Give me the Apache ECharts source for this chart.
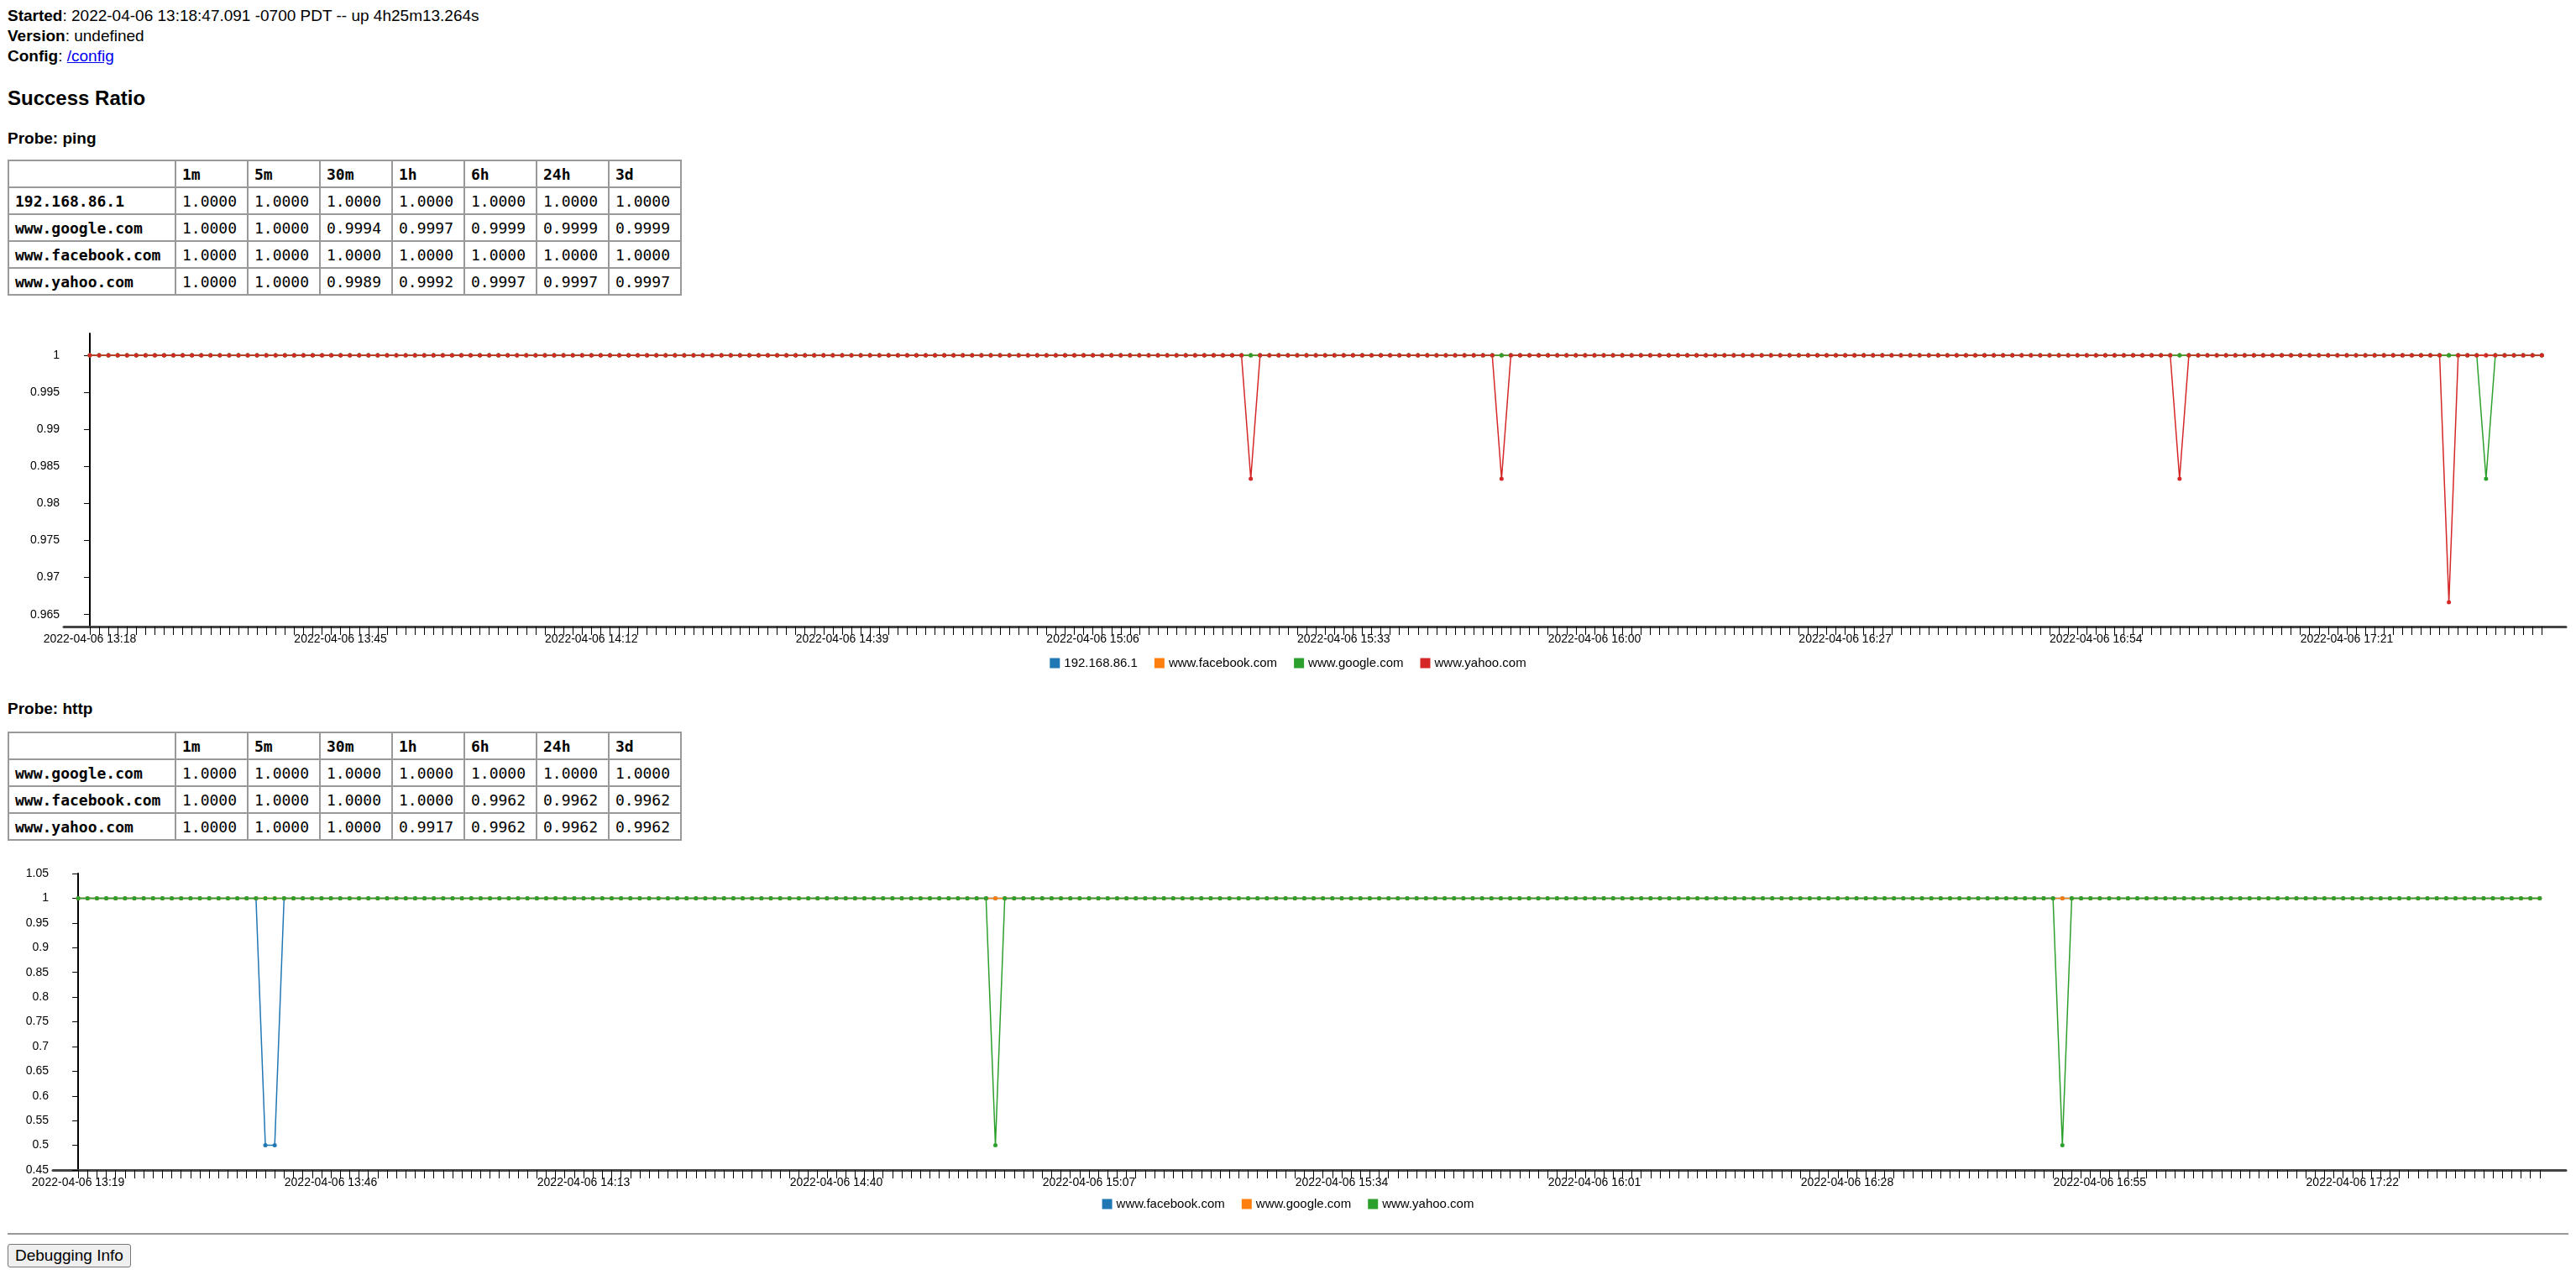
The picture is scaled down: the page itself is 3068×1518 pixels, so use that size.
<!DOCTYPE html>
<html>
<head>
<meta charset="utf-8">
<script src="https://cdn.jsdelivr.net/npm/echarts@6/dist/echarts.min.js"></script>
<style>
  body { margin: 0; width: 3068px; height: 1518px; position: relative; font-family: "Liberation Sans", Arial, sans-serif; font-size: 19px; color: #000; background: #fff; overflow: hidden; }
  .abs { position: absolute; }
  .info { left: 9px; top: 7px; line-height: 24px; }
  a { color: #0000ee; }
  h2 { margin: 0; font-size: 24px; }
  h3 { margin: 0; font-size: 19px; }
  table { border-collapse: collapse; font-family: "DejaVu Sans Mono", monospace; font-size: 18px; }
  td, th { border: 2px solid #999; height: 30px; padding: 0 7px; text-align: left; }
  th { font-weight: bold; }
  td:first-child { font-weight: bold; width: 183px; }
  td:not(:first-child), th:not(:first-child) { width: 70px; }
  hr { margin: 0; border: 0; border-top: 2px solid #999; }
  button { font-family: "Liberation Sans", Arial, sans-serif; font-size: 19px; padding: 0 8px; height: 28px; background: #efefef; border: 1px solid #777; border-radius: 3px; }
</style>
</head>
<body>
<div class="abs info"><b>Started</b>: 2022-04-06 13:18:47.091 -0700 PDT -- up 4h25m13.264s<br><b>Version</b>: undefined<br><b>Config</b>: <a href="#">/config</a></div>
<h2 class="abs" style="left:9px;top:103px">Success Ratio</h2>
<h3 class="abs" style="left:9px;top:154px">Probe: ping</h3>
<table class="abs" style="left:9px;top:190px" id="t1"></table>
<div class="abs" id="c1" style="left:0;top:380px;width:3068px;height:440px"></div>
<h3 class="abs" style="left:9px;top:833px">Probe: http</h3>
<table class="abs" style="left:9px;top:871px" id="t2"></table>
<div class="abs" id="c2" style="left:0;top:1020px;width:3068px;height:440px"></div>
<hr class="abs" style="left:9px;top:1468px;width:3050px">
<button class="abs" style="left:9px;top:1481px">Debugging Info</button>
<script>
// ---- data ----
const windows = ['1m', '5m', '30m', '1h', '6h', '24h', '3d']

const pingTargets = ['192.168.86.1', 'www.google.com', 'www.facebook.com', 'www.yahoo.com']
const pingRatios = [
  ['1.0000', '1.0000', '1.0000', '1.0000', '1.0000', '1.0000', '1.0000'],
  ['1.0000', '1.0000', '0.9994', '0.9997', '0.9999', '0.9999', '0.9999'],
  ['1.0000', '1.0000', '1.0000', '1.0000', '1.0000', '1.0000', '1.0000'],
  ['1.0000', '1.0000', '0.9989', '0.9992', '0.9997', '0.9997', '0.9997']
]
const httpTargets = ['www.google.com', 'www.facebook.com', 'www.yahoo.com']
const httpRatios = [
  ['1.0000', '1.0000', '1.0000', '1.0000', '1.0000', '1.0000', '1.0000'],
  ['1.0000', '1.0000', '1.0000', '1.0000', '0.9962', '0.9962', '0.9962'],
  ['1.0000', '1.0000', '1.0000', '0.9917', '0.9962', '0.9962', '0.9962']
]

// ping chart: one sample per minute, 1 everywhere except listed dips [index, value]
const pingCount = 265
const pingSeriesNames = ['192.168.86.1', 'www.facebook.com', 'www.google.com', 'www.yahoo.com']
const pingLanDips = []
const pingFacebookDips = []
const pingGoogleDips = [[258, 0.98333]]
const pingYahooDips = [[125, 0.98333], [152, 0.98333], [225, 0.98333], [254, 0.96667]]
const pingTickIdx = [0, 27, 54, 81, 108, 135, 162, 189, 216, 243]
const pingTickLabels = ['2022-04-06 13:18', '2022-04-06 13:45', '2022-04-06 14:12', '2022-04-06 14:39', '2022-04-06 15:06',
  '2022-04-06 15:33', '2022-04-06 16:00', '2022-04-06 16:27', '2022-04-06 16:54', '2022-04-06 17:21']
const pingYTicks = [0.965, 0.97, 0.975, 0.98, 0.985, 0.99, 0.995, 1]

const httpCount = 264
const httpSeriesNames = ['www.facebook.com', 'www.google.com', 'www.yahoo.com']
const httpFacebookDips = [[20, 0.5], [21, 0.5]]
const httpGoogleDips = []
const httpYahooDips = [[98, 0.5], [212, 0.5]]
const httpTickIdx = [0, 27, 54, 81, 108, 135, 162, 189, 216, 243]
const httpTickLabels = ['2022-04-06 13:19', '2022-04-06 13:46', '2022-04-06 14:13', '2022-04-06 14:40', '2022-04-06 15:07',
  '2022-04-06 15:34', '2022-04-06 16:01', '2022-04-06 16:28', '2022-04-06 16:55', '2022-04-06 17:22']

const colors = ['#1f77b4', '#ff7f0e', '#2ca02c', '#d62728']

// ---- tables ----
function fillTable (id, targets, ratios) {
  let html = '<tr><th></th>' + windows.map(w => '<th>' + w + '</th>').join('') + '</tr>'
  targets.forEach((t, i) => {
    html += '<tr><td>' + t + '</td>' + ratios[i].map(v => '<td>' + v + '</td>').join('') + '</tr>'
  })
  document.getElementById(id).innerHTML = html
}
fillTable('t1', pingTargets, pingRatios)
fillTable('t2', httpTargets, httpRatios)

// ---- charts ----
function buildSeries (count, dips) {
  let data = []
  for (let i = 0; i < count; i++) data.push([i, 1])
  dips.forEach(d => { data[d[0]] = [d[0], d[1]] })
  return data
}

function setOption (chart, o) {
  let allTicks = []
  for (let i = 0; i < o.count; i++) allTicks.push(i)
  let option = {
    animation: false,
    color: o.colors,
    legend: {
      data: o.names,
      bottom: o.legendBottom,
      left: 'center',
      icon: 'rect',
      itemWidth: 12,
      itemHeight: 12,
      itemGap: 20,
      textStyle: { fontSize: 15, color: '#000', fontFamily: 'Liberation Sans' }
    },
    grid: { left: o.left, right: 12, top: o.top, bottom: o.bottom },
    xAxis: {
      type: 'value',
      min: o.xMin,
      max: o.xMax,
      splitLine: { show: false },
      axisLine: { lineStyle: { color: '#444', width: 3 } },
      axisTick: { customValues: allTicks, length: 10, lineStyle: { color: '#000' } },
      axisLabel: {
        customValues: o.tickIdx,
        formatter: v => o.tickLabels[o.tickIdx.indexOf(Math.round(v))] || '',
        fontSize: 14,
        color: '#000',
        margin: 8,
        fontFamily: 'Liberation Sans'
      }
    },
    yAxis: o.yAxis,
    series: o.names.map((n, i) => ({
      name: n,
      type: 'line',
      data: o.data[i],
      symbol: 'circle',
      symbolSize: 5,
      lineStyle: { width: 1.5 }
    }))
  }
  chart.setOption(option)
}

const yBase = {
  type: 'value',
  splitLine: { show: false },
  axisLine: { show: true, lineStyle: { color: '#000', width: 2 } },
  axisTick: { show: true, length: 7, lineStyle: { color: '#000' } },
  axisLabel: { fontSize: 14, color: '#000', margin: 5, fontFamily: 'Liberation Sans' }
}

const chart1 = echarts.init(document.getElementById('c1'))
setOption(chart1, {
  count: pingCount,
  colors: colors,
  names: pingSeriesNames,
  data: [pingLanDips, pingFacebookDips, pingGoogleDips, pingYahooDips].map(d => buildSeries(pingCount, d)),
  tickIdx: pingTickIdx,
  tickLabels: pingTickLabels,
  xMin: -2.8, xMax: 266.6,
  left: 76, top: 17, bottom: 74, legendBottom: 18,
  yAxis: Object.assign({}, yBase, {
    min: 0.96338, max: 1.00294,
    axisTick: Object.assign({}, yBase.axisTick, { customValues: pingYTicks }),
    axisLabel: Object.assign({}, yBase.axisLabel, { customValues: pingYTicks })
  })
})

const chart2 = echarts.init(document.getElementById('c2'))
setOption(chart2, {
  count: httpCount,
  colors: colors.slice(0, 3),
  names: httpSeriesNames,
  data: [httpFacebookDips, httpGoogleDips, httpYahooDips].map(d => buildSeries(httpCount, d)),
  tickIdx: httpTickIdx,
  tickLabels: httpTickLabels,
  xMin: -2.7, xMax: 265.8,
  left: 63, top: 20, bottom: 67, legendBottom: 14,
  yAxis: Object.assign({}, yBase, { min: 0.45, max: 1.05, interval: 0.05 })
})
</script>
</body>
</html>
